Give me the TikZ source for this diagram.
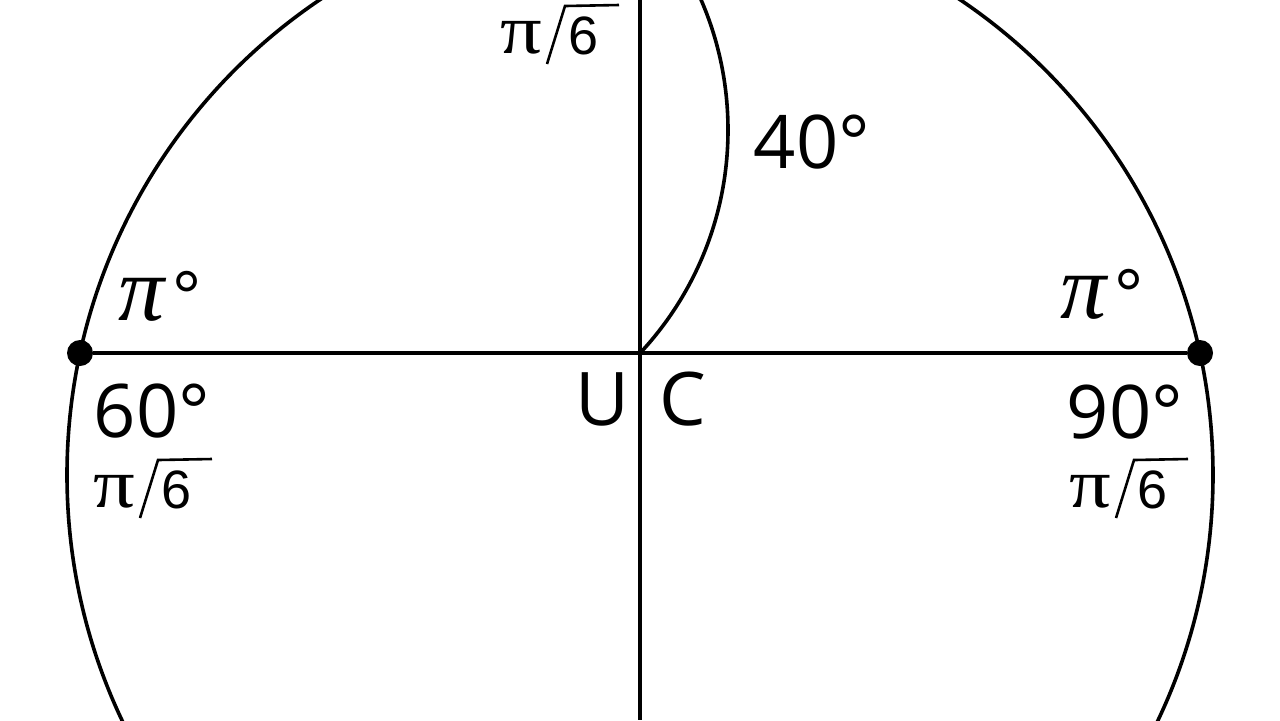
\documentclass[tikz,border=0pt]{standalone}
\usepackage{fontspec}
\setmainfont{Open Sans}
\newfontfamily\pifont{Liberation Serif}
\newfontfamily\sixfont{Liberation Sans}
\tikzset{
  lbl/.style={inner sep=0pt, anchor=base, font=\fontsize{37}{40}\selectfont},
  pideg/.style={inner sep=0pt, anchor=base},
  mainline/.style={line width=1.8pt, black},
  dotmark/.style={circle, fill=black, inner sep=0pt, minimum size=13pt},
  pisix/.pic={
    \node[inner sep=0pt, anchor=base, font=\pifont\fontsize{35}{38}\selectfont] (-pi) at (22,0) {\scalebox{1.18}[1]{π}};
    \draw[line width=1.3pt] (48,11) -- (66,-47) -- (120,-48);
    \node[inner sep=0pt, anchor=base, font=\sixfont\fontsize{27}{29}\selectfont] (-six) at (85,1) {6};
  }
}
\begin{document}
\begin{tikzpicture}[x=0.5pt,y=-0.5pt]
\useasboundingbox[fill=white] (0,0) rectangle (1280,720);
\begin{scope}
  \clip (0,0) rectangle (1280,720);
  \draw[mainline] (640,475) circle[radius=286.5pt];
  \draw[mainline] (640,0) -- (640,720);
  \begin{scope}
    \clip (640,-120) rectangle (1280,353);
    \draw[mainline] (401,130) circle[radius=163.5pt];
  \end{scope}
\end{scope}
\node[dotmark] (L) at (80,353) {};
\node[dotmark] (R) at (1200,353) {};
\draw[mainline] (L) -- (R);

\node[lbl] (a40) at (812,168) {40°};
\node[lbl] (a60) at (152,437) {60°};
\node[lbl] (a90) at (1125,438) {90°};
\node[lbl] (U) at (602,425) {U};
\node[lbl] (C) at (683,425) {C};
\node[pideg] (pl) at (160,320) {{\pifont\itshape\fontsize{46}{48}\selectfont π}\kern4pt{\fontsize{34}{38}\selectfont °}};
\node[pideg] (pr) at (1102,318) {{\pifont\itshape\fontsize{46}{48}\selectfont π}\kern4pt{\fontsize{34}{38}\selectfont °}};

\pic (tl) at (499,53) {pisix};
\pic (bl) at (92,507) {pisix};
\pic (br) at (1068,507) {pisix};
\end{tikzpicture}
\end{document}
